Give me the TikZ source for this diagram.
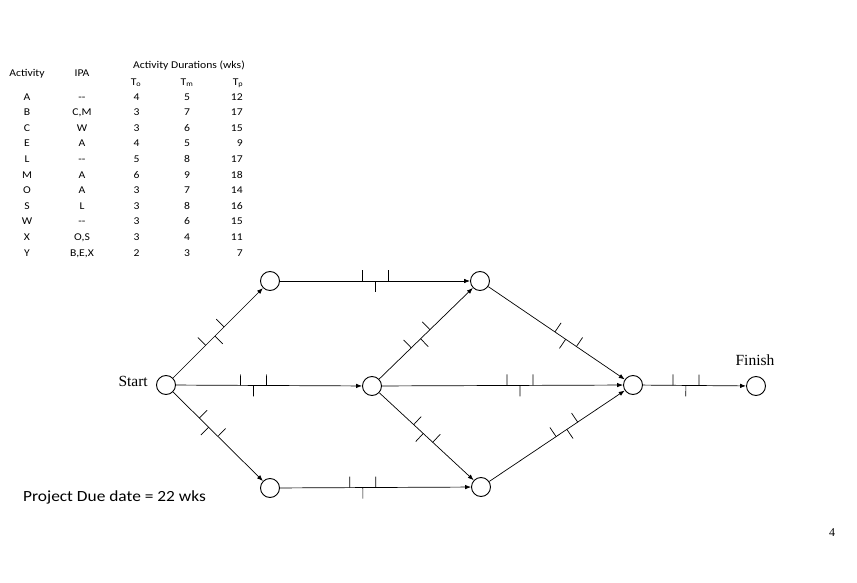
\documentclass[tikz,border=0pt]{standalone}
\usepackage{fontspec}
\setmainfont{Liberation Serif}
\newfontfamily\carl[FakeStretch=1.12]{Carlito}
\usetikzlibrary{arrows.meta,calc}
\tikzset{
  pnode/.style={circle,draw,minimum size=19pt,inner sep=0pt,line width=0.9pt},
  arr/.style={-{Latex[length=6pt,width=4.5pt]},line width=0.7pt},
  tk/.style={line width=0.7pt},
  tab/.style={font=\carl\fontsize{10.4}{12}\selectfont,inner sep=0pt,text height=6.7pt,text depth=0pt},
  lbl/.style={font=\fontsize{15.5}{18}\selectfont,inner sep=0pt}
}
\newcommand\tickset[3]{%
  \coordinate (tc) at ($(#1)!#3!(#2)$);
  \foreach \d/\s in {-13/1,0/-1,13/1}{
    \path ($(tc)!\d pt!(#2)$) coordinate (tb);
    \draw[tk] (tb) -- ($(tb)!\s*11pt!90:(#2)$);
  }}
\begin{document}
\begin{tikzpicture}[x=1pt,y=-1pt]
\useasboundingbox (0,0) rectangle (857,583);
% table
\node[tab] (h1) at (27,73.3) {Activity};
\node[tab] (h2) at (82,73.3) {IPA};
\node[tab] (h3) at (189,65) {Activity Durations (wks)};
\node[tab] (h4) at (136,81.7) {T\textsubscript{o}};
\node[tab] (h5) at (187,81.7) {T\textsubscript{m}};
\node[tab] (h6) at (238,81.7) {T\textsubscript{p}};
\foreach \a/\b/\c/\e/\f [count=\i from 0] in {A/-{}-/4/5/12, B/{C,M}/3/7/17, C/W/3/6/15, E/A/4/5/9, L/-{}-/5/8/17, M/A/6/9/18, O/A/3/7/14, S/L/3/8/16, W/-{}-/3/6/15, X/{O,S}/3/4/11, Y/{B,E,X}/2/3/7}{
  \node[tab] (ra\i) at (27,96.7+15.6*\i) {\a};
  \node[tab] (rb\i) at (82,96.7+15.6*\i) {\b};
  \node[tab] (rc\i) at (136.5,96.7+15.6*\i) {\c};
  \node[tab] (rd\i) at (187,96.7+15.6*\i) {\e};
  \node[tab,anchor=east] (re\i) at (243,96.7+15.6*\i) {\f};
}
% network
\node[pnode] (s) at (166,385) {};
\node[pnode] (tl) at (270,281) {};
\node[pnode] (m) at (372,386) {};
\node[pnode] (bl) at (270,488) {};
\node[pnode] (tr) at (480,281) {};
\node[pnode] (br) at (481,487) {};
\node[pnode] (g) at (633,385) {};
\node[pnode] (f) at (756,386) {};
\node[lbl,anchor=east] (st) at (148,381) {Start};
\node[lbl] (fi) at (755,360) {Finish};
\draw[arr] (s) -- (tl);
\draw[arr] (s) -- (m);
\draw[arr] (s) -- (bl);
\draw[arr] (tl) -- (tr);
\draw[arr] (m) -- (tr);
\draw[arr] (m) -- (br);
\draw[arr] (bl) -- (br);
\draw[arr] (tr) -- (g);
\draw[arr] (m) -- (g);
\draw[arr] (br) -- (g);
\draw[arr] (g) -- (f);
\tickset{s}{tl}{0.47}
\tickset{s}{m}{0.425}
\tickset{s}{bl}{0.41}
\tickset{tl}{tr}{0.5}
\tickset{m}{tr}{0.45}
\tickset{m}{br}{0.47}
\tickset{bl}{br}{0.44}
\tickset{tr}{g}{0.56}
\tickset{m}{g}{0.567}
\tickset{br}{g}{0.565}
\tickset{g}{f}{0.43}
\node[font=\carl\fontsize{15.5}{18}\selectfont,anchor=west,inner sep=0pt] (due) at (23,497) {Project Due date = 22 wks};
\node[font=\fontsize{12}{14}\selectfont,inner sep=0pt] (pg) at (832,533) {4};
\end{tikzpicture}
\end{document}
